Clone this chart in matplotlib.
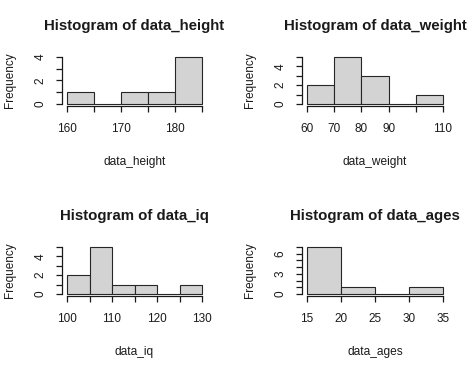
import numpy as np
import matplotlib.pyplot as plt

plt.rcParams['font.family'] = ['Liberation Sans', 'DejaVu Sans']

# histogram bins and counts
height_edges = [160, 165, 170, 175, 180, 185]
height_counts = [1, 0, 1, 1, 4]
height_xlabels = [160, 170, 180]
height_ylabels = [0, 2, 4]

weight_edges = [60, 70, 80, 90, 100, 110]
weight_counts = [2, 5, 3, 0, 1]
weight_xlabels = [60, 70, 80, 90, 110]
weight_ylabels = [0, 2, 4]

iq_edges = [100, 105, 110, 115, 120, 125, 130]
iq_counts = [2, 5, 1, 1, 0, 1]
iq_xlabels = [100, 110, 120, 130]
iq_ylabels = [0, 2, 4]

ages_edges = [15, 20, 25, 30, 35]
ages_counts = [7, 1, 0, 1]
ages_xlabels = [15, 20, 25, 30, 35]
ages_ylabels = [0, 3, 6]

W, H = 474, 367
INK = '#1a1a1a'

fig = plt.figure(figsize=(W / 100, H / 100), dpi=100)


def px_axes(left, top, right, bottom):
    # plot region given in pixels from the top-left corner
    return fig.add_axes([left / W, 1 - bottom / H, (right - left) / W, (bottom - top) / H])


def r_hist(ax, name, edges, counts, xlabels, ylabels):
    edges = np.asarray(edges, dtype=float)
    counts = np.asarray(counts)
    ax.bar(edges[:-1], counts, width=np.diff(edges), align='edge',
           color='#d3d3d3', edgecolor='#262626', linewidth=0.8)

    # R style: 4% padding around the data range, axes only span the ticks
    lo, hi = edges[0], edges[-1]
    top = counts.max()
    ax.set_xlim(lo - 0.04 * (hi - lo), hi + 0.04 * (hi - lo))
    ax.set_ylim(-0.04 * top, 1.04 * top)

    for s in ['top', 'right']:
        ax.spines[s].set_visible(False)
    for s in ['left', 'bottom']:
        ax.spines[s].set_linewidth(0.9)
        ax.spines[s].set_color(INK)
    ax.spines['bottom'].set_bounds(lo, hi)
    ax.spines['left'].set_bounds(0, top)

    ax.set_xticks(edges)
    ax.set_xticklabels([f'{e:g}' if e in xlabels else '' for e in edges])
    yt = np.arange(0, top + 1)
    ax.set_yticks(yt)
    ax.set_yticklabels([str(v) if v in ylabels else '' for v in yt],
                       rotation=90, va='center')
    ax.tick_params(length=4, width=0.9, color=INK, labelsize=8.5,
                   labelcolor=INK)
    ax.tick_params(axis='x', pad=8.5)
    ax.tick_params(axis='y', pad=7)

    ax.set_title('Histogram of ' + name, fontsize=10.8, fontweight='bold',
                 color=INK, pad=18)
    ax.set_xlabel(name, fontsize=8.6, color=INK, labelpad=15)
    ax.set_ylabel('Frequency', fontsize=8.5, color=INK, labelpad=13)


cols = [(61.6, 207.4), (301.6, 448.4)]
rows = [(55.1, 105.9), (245.1, 295.9)]

panels = [
    ('data_height', height_edges, height_counts, height_xlabels, height_ylabels),
    ('data_weight', weight_edges, weight_counts, weight_xlabels, weight_ylabels),
    ('data_iq', iq_edges, iq_counts, iq_xlabels, iq_ylabels),
    ('data_ages', ages_edges, ages_counts, ages_xlabels, ages_ylabels),
]

for i, p in enumerate(panels):
    (l, r), (t, b) = cols[i % 2], rows[i // 2]
    ax = px_axes(l, t, r, b)
    r_hist(ax, *p)

fig.savefig('out.png', dpi=100, facecolor='white')
